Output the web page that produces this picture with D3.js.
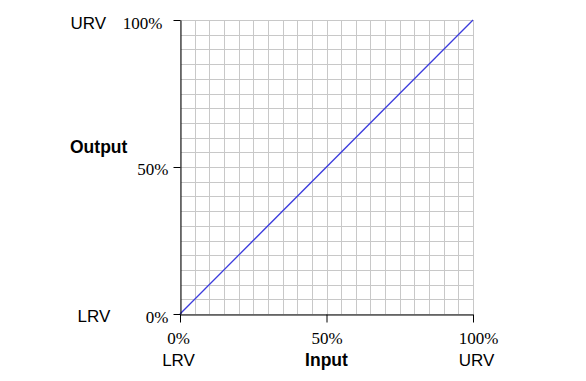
<!DOCTYPE html>
<html>
<head>
<meta charset="utf-8">
<script src="https://cdn.jsdelivr.net/npm/d3@7"></script>
<style>
  body { margin: 0; background: #fff; }
  svg { display: block; }
</style>
</head>
<body>
<svg id="chart" width="586" height="381"></svg>
<script>
// values, in percent of span
var inputPct  = [0, 100],
    outputPct = [0, 100],
    tickVals  = [0, 50, 100],
    xNames    = ["LRV", "", "URV"],   // range names under the input ticks
    yNames    = ["LRV", "", "URV"],   // range names beside the output ticks
    gridStep  = 5;

var svg = d3.select('#chart'),
    x0 = 180, x1 = 473,
    y0 = 314, y1 = 20;

var x = d3.scaleLinear().domain([0, 100]).range([x0, x1]),
    y = d3.scaleLinear().domain([0, 100]).range([y0, y1]);

var gridVals = d3.range(0, 100 + gridStep, gridStep);

// grid
var grid = svg.append('g').attr('stroke', '#c8c8c8').attr('stroke-width', 1);
grid.selectAll('line.v').data(gridVals).enter().append('line')
    .attr('x1', function (d) { return Math.round(x(d)) + 0.5; })
    .attr('x2', function (d) { return Math.round(x(d)) + 0.5; })
    .attr('y1', y1).attr('y2', y0);
grid.selectAll('line.h').data(gridVals).enter().append('line')
    .attr('y1', function (d) { return Math.round(y(d)) + 0.5; })
    .attr('y2', function (d) { return Math.round(y(d)) + 0.5; })
    .attr('x1', x0).attr('x2', x1);

// the line
svg.append('path')
    .datum(d3.zip(inputPct, outputPct))
    .attr('fill', 'none')
    .attr('stroke', '#3c3cdc')
    .attr('stroke-width', 1.3)
    .attr('d', d3.line()
        .x(function (d) { return x(d[0]); })
        .y(function (d) { return y(d[1]); }));

var fmt = function (d) { return d + '%'; };

// axes
var gy = svg.append('g').attr('transform', 'translate(' + (x0 + 0.5) + ',0)')
    .call(d3.axisLeft(y).tickValues(tickVals).tickFormat(fmt).tickSize(7).tickPadding(5).tickSizeOuter(0));
var gx = svg.append('g').attr('transform', 'translate(0,' + (y0 + 0.5) + ')')
    .call(d3.axisBottom(x).tickValues(tickVals).tickFormat(fmt).tickSize(8).tickPadding(10).tickSizeOuter(0));

[gx, gy].forEach(function (g) {
    g.select('.domain').attr('stroke', '#000');
    g.selectAll('.tick line').attr('stroke', '#000');
    g.selectAll('.tick text')
        .attr('fill', '#000')
        .attr('font-family', '"Liberation Serif", "Times New Roman", serif')
        .attr('font-size', 17);
});

gy.selectAll('.tick text').attr('dy', '0')
    .attr('y', function (d) { return d === 50 ? 7 : 8; })
    .attr('x', function (d) { return d === 100 ? -18 : -12; });
gx.selectAll('.tick text').attr('dy', '0').attr('y', 29)
    .attr('x', function (d) { return d === 100 ? 5 : (d === 0 ? -2 : 0); });

// range names
var sans = '"Liberation Sans", Arial, sans-serif';
gx.selectAll('.tick').append('text')
    .attr('fill', '#000').attr('font-family', sans).attr('font-size', 17)
    .attr('text-anchor', 'middle')
    .attr('x', function (d) { return d === 100 ? 3 : (d === 0 ? -2 : 0); })
    .attr('y', 51)
    .text(function (d, i) { return xNames[i]; });
gy.selectAll('.tick').append('text')
    .attr('fill', '#000').attr('font-family', sans).attr('font-size', 17)
    .attr('text-anchor', 'start')
    .attr('x', function (d) { return d === 0 ? -103 : -110; })
    .attr('y', function (d) { return d === 0 ? 7 : 8; })
    .text(function (d, i) { return yNames[i]; });

// axis titles
svg.append('text')
    .attr('x', 70).attr('y', 153)
    .attr('font-family', sans).attr('font-size', 17.5).attr('font-weight', 'bold')
    .text('Output');
svg.append('text')
    .attr('x', x(50)).attr('y', 366).attr('text-anchor', 'middle')
    .attr('font-family', sans).attr('font-size', 17.5).attr('font-weight', 'bold')
    .text('Input');
</script>
</body>
</html>
